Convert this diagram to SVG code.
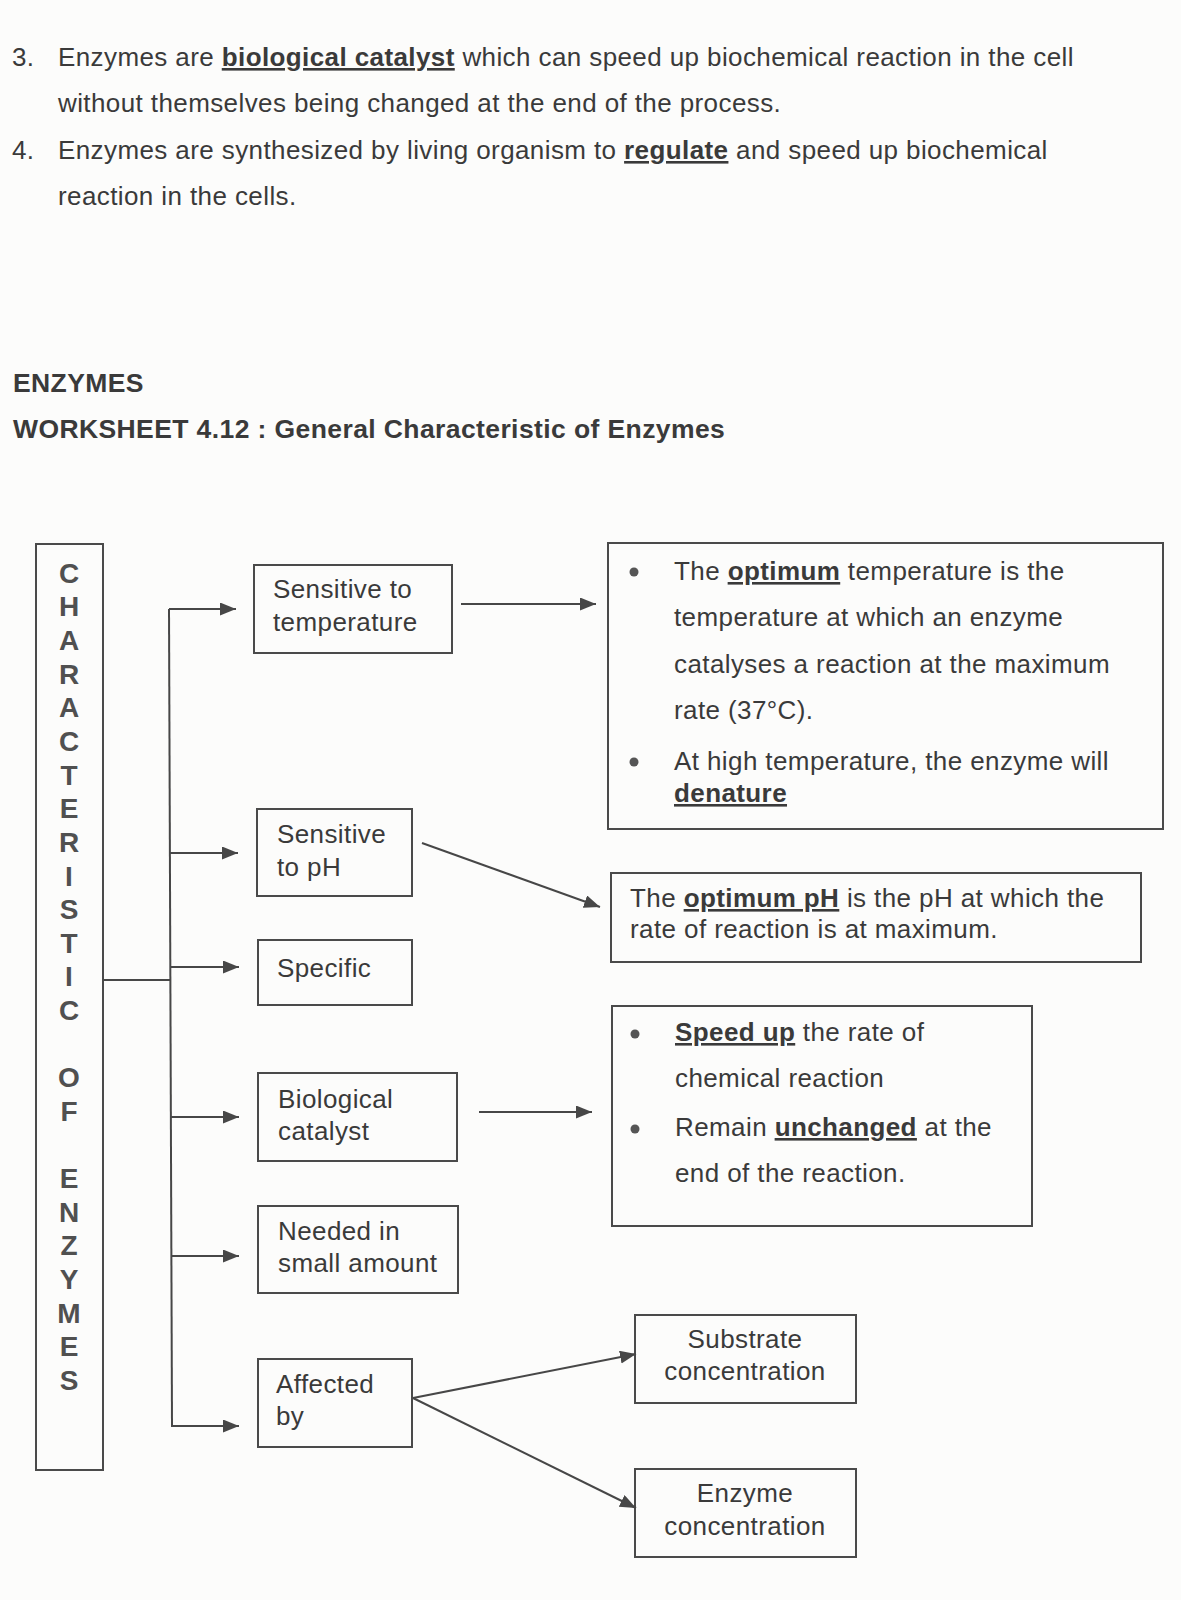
<svg xmlns="http://www.w3.org/2000/svg" width="1181" height="1600" viewBox="0 0 1181 1600">
<style>
text{font-family:"Liberation Sans",Arial,sans-serif;fill:#3a3a3a}
.p{font-size:26px;letter-spacing:0.4px}
.h{font-size:26.5px;font-weight:bold;letter-spacing:0.4px}
.t{font-size:26px;letter-spacing:0.4px}
.b{font-weight:bold;text-decoration:underline}
.v{font-size:28px;font-weight:bold;fill:#505050;text-anchor:middle}
.box{fill:none;stroke:#4a4a4a;stroke-width:2}
.ln{fill:none;stroke:#474747;stroke-width:2}
.dot{fill:#555}
</style>
<defs>
<marker id="ah" markerUnits="userSpaceOnUse" markerWidth="17" markerHeight="14" refX="16" refY="6.5" orient="auto">
<path d="M0,0 L16,6.5 L0,13 Z" fill="#474747"/>
</marker>
</defs>
<rect width="1181" height="1600" fill="#fcfcfb"/>

<g id="intro">
<text class="p" x="12" y="66">3.</text>
<text class="p" x="58" y="66">Enzymes are <tspan class="b">biological catalyst</tspan> which can speed up biochemical reaction in the cell</text>
<text class="p" x="58" y="112">without themselves being changed at the end of the process.</text>
<text class="p" x="12" y="159">4.</text>
<text class="p" x="58" y="159">Enzymes are synthesized by living organism to <tspan class="b">regulate</tspan> and speed up biochemical</text>
<text class="p" x="58" y="205">reaction in the cells.</text>
</g>

<g id="title">
<text class="h" x="13" y="392">ENZYMES</text>
<text class="h" x="13" y="438">WORKSHEET 4.12 : General Characteristic of Enzymes</text>
</g>

<g id="root">
<rect class="box" x="36" y="544" width="67" height="926"/>
<text class="v" x="69" y="583">C</text>
<text class="v" x="69" y="616">H</text>
<text class="v" x="69" y="650">A</text>
<text class="v" x="69" y="684">R</text>
<text class="v" x="69" y="717">A</text>
<text class="v" x="69" y="751">C</text>
<text class="v" x="69" y="785">T</text>
<text class="v" x="69" y="818">E</text>
<text class="v" x="69" y="852">R</text>
<text class="v" x="69" y="886">I</text>
<text class="v" x="69" y="919">S</text>
<text class="v" x="69" y="953">T</text>
<text class="v" x="69" y="986">I</text>
<text class="v" x="69" y="1020">C</text>
<text class="v" x="69" y="1087">O</text>
<text class="v" x="69" y="1121">F</text>
<text class="v" x="69" y="1188">E</text>
<text class="v" x="69" y="1222">N</text>
<text class="v" x="69" y="1255">Z</text>
<text class="v" x="69" y="1289">Y</text>
<text class="v" x="69" y="1323">M</text>
<text class="v" x="69" y="1356">E</text>
<text class="v" x="69" y="1390">S</text>
</g>

<g id="n-temp">
<rect class="box" x="254" y="565" width="198" height="88"/>
<text class="t" x="273" y="598">Sensitive to</text>
<text class="t" x="273" y="631">temperature</text>
</g>
<g id="n-ph">
<rect class="box" x="257" y="809" width="155" height="87"/>
<text class="t" x="277" y="843">Sensitive</text>
<text class="t" x="277" y="876">to pH</text>
</g>
<g id="n-specific">
<rect class="box" x="258" y="940" width="154" height="65"/>
<text class="t" x="277" y="977">Specific</text>
</g>
<g id="n-bio">
<rect class="box" x="258" y="1073" width="199" height="88"/>
<text class="t" x="278" y="1108">Biological</text>
<text class="t" x="278" y="1140">catalyst</text>
</g>
<g id="n-needed">
<rect class="box" x="258" y="1206" width="200" height="87"/>
<text class="t" x="278" y="1240">Needed in</text>
<text class="t" x="278" y="1272">small amount</text>
</g>
<g id="n-affected">
<rect class="box" x="258" y="1359" width="154" height="88"/>
<text class="t" x="276" y="1393">Affected</text>
<text class="t" x="276" y="1425">by</text>
</g>

<g id="d-temp">
<rect class="box" x="608" y="543" width="555" height="286"/>
<circle class="dot" cx="634" cy="572" r="4.5"/>
<circle class="dot" cx="634" cy="762" r="4.5"/>
<text class="t" x="674" y="580">The <tspan class="b">optimum</tspan> temperature is the</text>
<text class="t" x="674" y="626">temperature at which an enzyme</text>
<text class="t" x="674" y="673">catalyses a reaction at the maximum</text>
<text class="t" x="674" y="719">rate (37°C).</text>
<text class="t" x="674" y="770">At high temperature, the enzyme will</text>
<text class="t" x="674" y="802"><tspan class="b">denature</tspan></text>
</g>
<g id="d-ph">
<rect class="box" x="611" y="873" width="530" height="89"/>
<text class="t" x="630" y="907">The <tspan class="b">optimum pH</tspan> is the pH at which the</text>
<text class="t" x="630" y="938">rate of reaction is at maximum.</text>
</g>
<g id="d-bio">
<rect class="box" x="612" y="1006" width="420" height="220"/>
<circle class="dot" cx="635" cy="1034" r="4.5"/>
<circle class="dot" cx="635" cy="1129" r="4.5"/>
<text class="t" x="675" y="1041"><tspan class="b">Speed up</tspan> the rate of</text>
<text class="t" x="675" y="1087">chemical reaction</text>
<text class="t" x="675" y="1136">Remain <tspan class="b">unchanged</tspan> at the</text>
<text class="t" x="675" y="1182">end of the reaction.</text>
</g>
<g id="d-substrate">
<rect class="box" x="635" y="1315" width="221" height="88"/>
<text class="t" x="745" y="1348" text-anchor="middle">Substrate</text>
<text class="t" x="745" y="1380" text-anchor="middle">concentration</text>
</g>
<g id="d-enzyme">
<rect class="box" x="635" y="1469" width="221" height="88"/>
<text class="t" x="745" y="1502" text-anchor="middle">Enzyme</text>
<text class="t" x="745" y="1535" text-anchor="middle">concentration</text>
</g>

<g id="connectors">
<line class="ln" x1="103" y1="980" x2="171" y2="980"/>
<line class="ln" x1="169" y1="609" x2="172" y2="1427"/>
<line class="ln" x1="169" y1="609" x2="236" y2="609" marker-end="url(#ah)"/>
<line class="ln" x1="170" y1="853" x2="238" y2="853" marker-end="url(#ah)"/>
<line class="ln" x1="171" y1="967" x2="239" y2="967" marker-end="url(#ah)"/>
<line class="ln" x1="171" y1="1117" x2="239" y2="1117" marker-end="url(#ah)"/>
<line class="ln" x1="171" y1="1256" x2="239" y2="1256" marker-end="url(#ah)"/>
<line class="ln" x1="172" y1="1426" x2="239" y2="1426" marker-end="url(#ah)"/>
<line class="ln" x1="461" y1="604" x2="596" y2="604" marker-end="url(#ah)"/>
<line class="ln" x1="422" y1="843" x2="600" y2="907" marker-end="url(#ah)"/>
<line class="ln" x1="479" y1="1112" x2="592" y2="1112" marker-end="url(#ah)"/>
<line class="ln" x1="413" y1="1398" x2="636" y2="1354" marker-end="url(#ah)"/>
<line class="ln" x1="413" y1="1398" x2="636" y2="1508" marker-end="url(#ah)"/>
</g>
</svg>
